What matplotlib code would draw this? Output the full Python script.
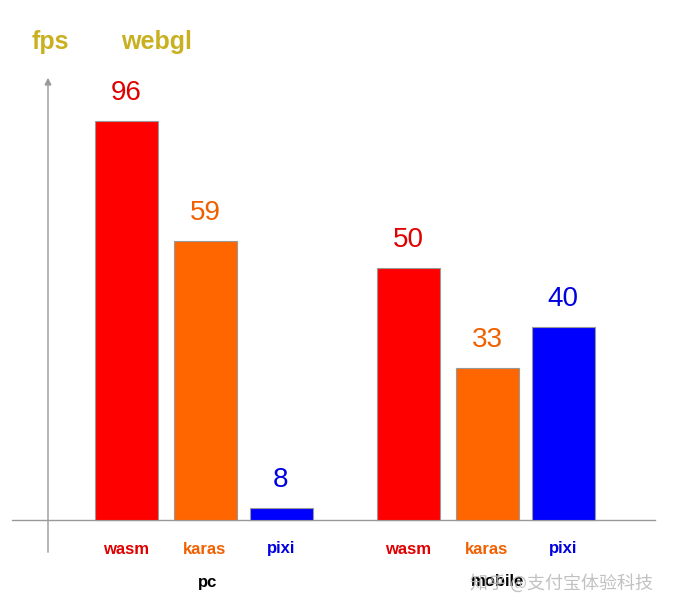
import matplotlib
matplotlib.use("Agg")
import matplotlib.pyplot as plt
from matplotlib.patches import FancyArrowPatch

groups = ["pc", "mobile"]
categories = ["wasm", "karas", "pixi", "wasm", "karas", "pixi"]
values = [96, 59, 8, 50, 33, 40]
# drawn bar heights (the original chart is not drawn to scale)
bar_heights = [399, 279, 12, 252, 152, 193]
colors = ["#ff0000", "#ff6600", "#0000ff", "#ff0000", "#ff6600", "#0000ff"]
label_colors = ["#e00000", "#f06000", "#0000e0", "#e00000", "#f06000", "#0000e0"]
centers = [126, 205, 281, 408, 487, 563]
group_centers = [208, 497]

plt.rcParams['font.family'] = ['Liberation Sans', 'Noto Sans CJK SC', 'DejaVu Sans']
fig = plt.figure(figsize=(6.86, 6.12), dpi=100)
ax = fig.add_axes([0, 0, 1, 1])
ax.set_xlim(0, 686)
ax.set_ylim(-92, 520)
ax.axis("off")

ax.bar(centers, bar_heights, width=63, color=colors, edgecolor="#999999", linewidth=0.8, zorder=2)
for c, h, v, lc in zip(centers, bar_heights, values, label_colors):
    ax.text(c, h + 28, str(v), color=lc, fontsize=20, ha="center", va="center")
for c, cat, lc in zip(centers, categories, label_colors):
    ax.text(c, -29, cat, color=lc, fontsize=12, ha="center", va="center", fontweight="bold")
for gc, g in zip(group_centers, groups):
    ax.text(gc, -62, g, color="black", fontsize=12, ha="center", va="center", fontweight="bold")

ax.plot([12, 655], [0, 0], color="#999999", lw=1, zorder=1)
ax.add_patch(FancyArrowPatch((48, -35), (48, 445), arrowstyle="-|>", mutation_scale=10,
                             color="#999999", lw=1))
ax.text(50, 478, "fps", color="#c8b020", fontsize=18, ha="center", va="center", fontweight="bold")
ax.text(157, 478, "webgl", color="#c8b020", fontsize=18, ha="center", va="center", fontweight="bold")
ax.text(562, -63, "知乎 @支付宝体验科技", family=['Noto Sans CJK SC', 'DejaVu Sans'],
        color="#bbbbbb", fontsize=13, ha="center", va="center", alpha=0.9)

fig.savefig("out.png", dpi=100)
